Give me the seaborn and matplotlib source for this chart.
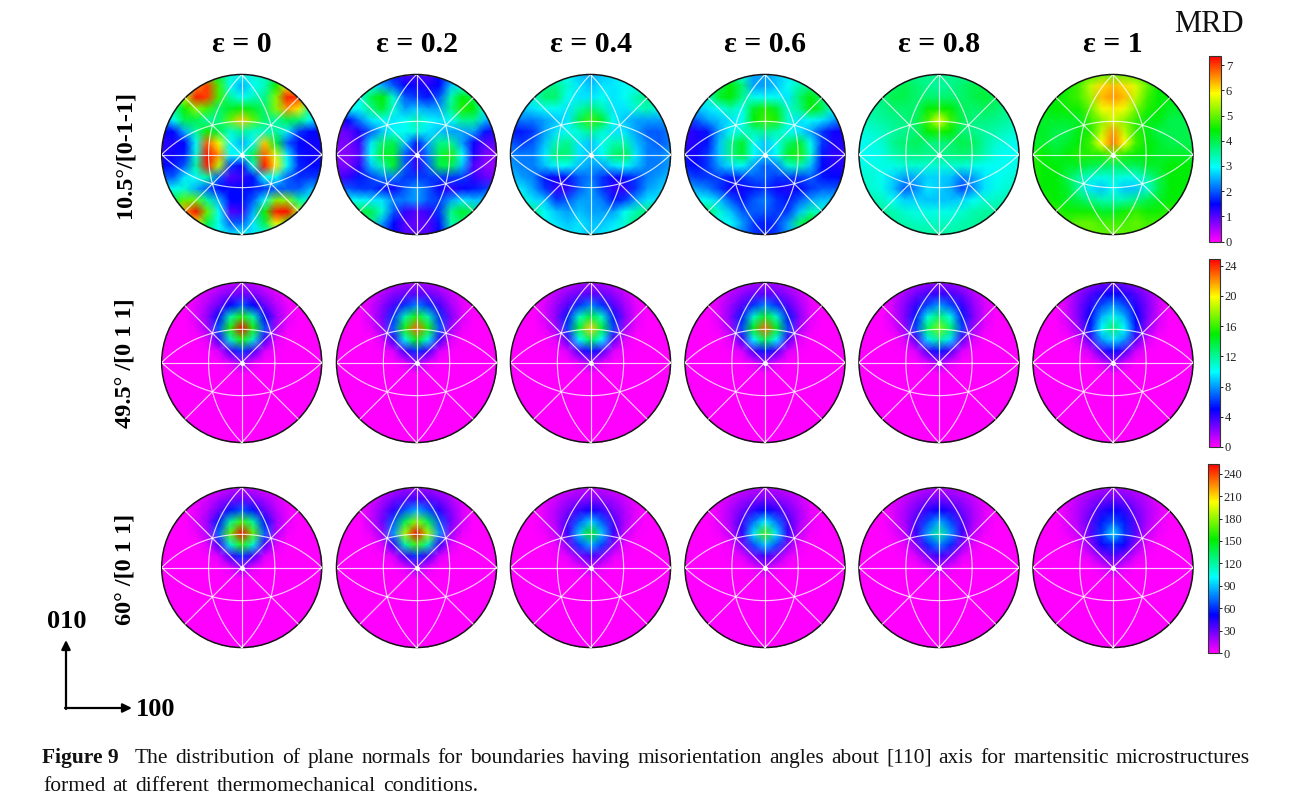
import numpy as np
import matplotlib
matplotlib.use("Agg")
import matplotlib.pyplot as plt
from matplotlib.colors import LinearSegmentedColormap
from matplotlib.patches import Circle
import seaborn as sns

sns.set_theme(style="white")
plt.rcParams["font.family"] = ["Liberation Serif", "DejaVu Serif"]

strains = ["ε = 0", "ε = 0.2", "ε = 0.4", "ε = 0.6", "ε = 0.8", "ε = 1"]
row_labels = ["10.5°/[0-1-1]", "49.5° /[0 1 1]", "60° /[0 1 1]"]
row_vmax = [7.37, 24.9, 253]
row_ticks = [list(range(0, 8)), list(range(0, 25, 4)), list(range(0, 241, 30))]
colors = ["#ff00ff", "#0000ff", "#00ffff", "#00ee00", "#ffff00", "#ff0000"]

# row 1: full 15x15 grids, MRD
low_e00 = [
    [3, 3, 3, 5, 5, 4, 3.2, 3, 3.2, 3.3, 4, 4, 4, 4, 4],
    [3, 3, 3, 6.5, 7, 4.8, 3, 2.5, 3, 3.3, 4.5, 6, 6, 5, 5],
    [3, 3, 5.5, 7.2, 7, 4.8, 3.5, 3, 3.3, 3.6, 5.2, 7.2, 7, 5, 4],
    [3, 3.5, 4.5, 5.2, 4.8, 3.8, 4.2, 4.5, 4.2, 3.8, 5.2, 6.5, 6, 3.5, 3],
    [2, 3, 4, 4, 3.5, 3.7, 5, 6.2, 5, 3.8, 3.5, 4, 3.8, 3, 2.5],
    [1.5, 1.5, 2.5, 3.5, 4.5, 4, 3.2, 3.6, 3.2, 3.3, 3.5, 2.8, 1.8, 1.5, 1.5],
    [1.2, 1.3, 1.5, 3, 6.8, 5.8, 3, 2.5, 3, 6.2, 4.2, 2, 1.5, 1.4, 1.4],
    [1.3, 1.4, 1.6, 3.2, 7.3, 6.5, 3, 3, 4, 6.8, 5.6, 2.8, 1.6, 1.4, 1.4],
    [1.5, 1.6, 2, 3.5, 7.2, 5.5, 1.8, 1.4, 3.2, 7.2, 6, 3, 1.7, 1.5, 1.5],
    [2, 2, 2.8, 3, 3.5, 2, 1, 1.2, 1.6, 3, 3, 2, 1.7, 1.8, 1.8],
    [3, 3, 3.2, 2.5, 2, 1.5, 1.5, 1.5, 1.6, 1.8, 2, 2, 2, 2.5, 2.5],
    [4, 4, 5, 5, 3.5, 2.5, 1.5, 1.5, 2, 3, 5.2, 5.2, 3.5, 3, 3],
    [5, 5, 6.5, 7.3, 5, 3, 1, 1.2, 2.5, 4.5, 7.2, 7.3, 5.5, 4, 4],
    [5, 5, 5, 6, 4, 3, 2, 2, 2.8, 4, 6, 5, 4, 4, 4],
    [4, 4, 4, 4, 3.5, 3, 2.8, 3, 2.8, 3, 3.5, 3.5, 3.5, 3.5, 3.5],
]
low_e02 = [
    [2, 2, 2, 2, 2, 1.5, 1, 1.2, 1, 1.5, 2, 2, 2, 2, 2],
    [3, 3, 3, 3, 2.5, 2, 1.5, 1.4, 1.3, 1.5, 2.6, 3, 3, 3, 3],
    [3, 3, 3, 4, 4.4, 3.2, 2, 1.8, 1.6, 2, 3.4, 4.4, 4, 3, 3],
    [3, 3, 3, 3.6, 4.2, 3.2, 2.4, 2.6, 2.4, 2.4, 3.6, 4.6, 4.4, 3, 3],
    [1.2, 1.5, 2.2, 2.8, 3, 2.8, 3, 3.4, 3, 2.8, 3, 3.6, 3.6, 2.6, 2],
    [.8, .9, 1.3, 2, 2.6, 3, 3, 3.2, 2.8, 2.6, 2.4, 2.4, 2.4, 1.6, 1.2],
    [.8, .8, 1.1, 2.8, 3.8, 4, 2.6, 1.6, 2.4, 3.6, 3.6, 2.4, 1.4, 1, .9],
    [.7, .7, 1, 3, 4.2, 4.2, 2, 1.2, 2.2, 4, 4.6, 3, 1.3, .8, .7],
    [.8, .8, 1.2, 2.6, 3.4, 4.2, 2, 1.2, 2, 4, 4, 2.6, 1, .7, .6],
    [1, 1.2, 1.6, 1.8, 2.2, 2.2, 1.8, 1.8, 1.8, 1.8, 1.8, 1.8, 1.2, .9, .8],
    [2, 2, 1.8, 1.8, 1.6, 1.4, 2, 2.4, 2, 1.4, 1.2, 1.4, 1.6, 1.8, 2],
    [3, 3, 3, 2.8, 2.8, 2.2, 2.2, 2.4, 2, 1.8, 2.4, 2.8, 2.6, 2.6, 3],
    [3.5, 3.5, 4, 4, 3.2, 2, 1.2, 1, 1.2, 1.8, 3.6, 4.2, 3.8, 3, 3],
    [4, 4, 4, 3.6, 2.4, 1.5, 1, .9, 1, 1.6, 3.4, 3.8, 3.4, 3, 3],
    [3, 3, 3, 3, 2, 1.5, 1, 1, 1, 1.5, 2.6, 3, 3, 3, 3],
]
low_e04 = [
    [3, 3, 3, 3, 3, 3, 2.6, 2.4, 2.6, 2.8, 3, 3, 3, 3, 3],
    [3, 3, 3, 3.6, 3.6, 3.2, 2.8, 2.6, 2.8, 2.8, 3, 3, 3, 3, 3],
    [3, 3, 3.2, 3.8, 3.8, 3, 2.8, 2.8, 3, 2.8, 3, 3.4, 3.6, 3, 3],
    [2.6, 2.6, 2.8, 3, 3, 2.8, 3.4, 3.8, 3.4, 2.8, 2.8, 3.2, 3.4, 3, 2.8],
    [2, 2.2, 2.2, 2.4, 2.6, 2.8, 4, 4.8, 4.2, 3, 2.6, 2.4, 2.4, 2.4, 2.4],
    [1.6, 1.6, 1.8, 2.4, 2.8, 3, 3.2, 3.6, 3.2, 2.8, 2.8, 2.4, 2, 2, 2.2],
    [2, 1.8, 2, 2.6, 3.4, 3.6, 2.8, 2.6, 3, 3.4, 3.4, 2.6, 2.2, 2, 2.2],
    [2.2, 2.2, 2.2, 2.8, 3.8, 3.8, 2.8, 2.6, 3, 3.8, 4, 2.8, 2.2, 2.2, 2.4],
    [2.4, 2.2, 2.2, 2.6, 3, 3, 2.6, 2.4, 2.4, 2.8, 3, 2.6, 2.2, 2.2, 2.4],
    [2.6, 2.4, 2.2, 1.6, 1.4, 1.6, 2, 2.2, 1.8, 1.4, 1.6, 1.8, 2.2, 2.4, 2.6],
    [3, 2.8, 2.4, 1.8, 1.2, 1.2, 2, 2.4, 1.8, 1.2, 1.2, 1.8, 2.4, 2.6, 3],
    [3.2, 3.2, 2.8, 2.6, 1.8, 2, 2.4, 2.4, 2.2, 1.6, 1.8, 2.4, 2.8, 2.8, 3],
    [3.6, 3.6, 3.6, 3, 2.6, 2.4, 2.6, 2.4, 2.4, 2.4, 3, 3.4, 3.8, 3.6, 3.6],
    [3.4, 3.4, 3.2, 3, 2.8, 2.6, 2.8, 2.6, 2.6, 2.8, 3.2, 3.8, 3.6, 3.4, 3.4],
    [3, 3, 3, 3, 3, 2.8, 2.8, 2.6, 2.8, 3, 3, 3, 3, 3, 3],
]
low_e06 = [
    [3, 3, 3, 3, 3.6, 3, 2.4, 2.4, 2.6, 2.8, 3, 3, 3, 3, 3],
    [3.4, 3.4, 3.4, 4, 4.4, 3.8, 2.4, 2.4, 2.6, 3, 3.4, 3.6, 3.4, 3.4, 3.4],
    [3.2, 3.2, 3.2, 4.2, 4.4, 3.6, 3, 3, 3, 2.8, 3.8, 4.4, 3.8, 3.2, 3.2],
    [2.4, 2.6, 2.8, 3, 3.4, 3, 4.2, 4.6, 4.2, 3.2, 3.6, 4.4, 4, 3, 2.6],
    [1.8, 2, 2.4, 2.6, 2.8, 3, 4.4, 4.8, 4.6, 3.2, 2.8, 3, 2.8, 2.4, 2],
    [1.2, 1.3, 1.6, 2.4, 3, 3.2, 3.4, 3.6, 3.4, 3, 2.8, 2.4, 1.8, 1.4, 1.4],
    [1.2, 1.3, 1.6, 2.6, 3.6, 4.2, 3, 2.6, 3, 3.8, 4.2, 3, 1.8, 1.3, 1.3],
    [1.4, 1.4, 1.8, 2.6, 3.6, 4.2, 3, 2.6, 3, 4.2, 4.6, 3.2, 1.6, 1.2, 1.2],
    [1.6, 1.5, 1.8, 2.4, 2.8, 3, 2.4, 2, 2.2, 3.2, 3.4, 2.6, 1.5, 1.3, 1.3],
    [2, 1.8, 1.8, 1.8, 1.6, 1.8, 2, 2, 1.8, 1.8, 1.8, 2, 1.6, 1.5, 1.5],
    [2.6, 2.4, 2.2, 1.8, 1.4, 1.4, 1.6, 1.8, 1.4, 1.3, 1.5, 1.8, 2, 2, 2],
    [3, 3, 3, 2.6, 2, 1.6, 2, 2.2, 1.8, 1.6, 2, 2.4, 2.6, 2.6, 2.6],
    [3.6, 3.6, 3.8, 3.2, 2.6, 2, 2, 2, 1.8, 1.8, 2.6, 3.4, 3.2, 3, 3],
    [3.4, 3.4, 3.2, 3, 3, 2.4, 1.8, 1.6, 1.8, 2.4, 3.8, 4.4, 3.8, 3.4, 3.4],
    [3, 3, 3, 3, 2.6, 2.2, 1.8, 1.6, 1.8, 2.4, 3.2, 3.6, 3.6, 3.2, 3],
]
low_e08 = [
    [3.6, 3.6, 3.6, 3.6, 3.6, 3.6, 3.6, 3.6, 3.6, 3.6, 3.6, 3.6, 3.6, 3.6, 3.6],
    [3.6, 3.6, 3.6, 3.8, 4, 3.8, 3.6, 3.5, 3.6, 3.8, 4, 4, 3.8, 3.6, 3.6],
    [3.6, 3.6, 3.7, 4, 4, 3.8, 3.8, 3.8, 3.8, 3.8, 4, 4.1, 3.9, 3.7, 3.6],
    [3.5, 3.5, 3.6, 3.8, 3.8, 3.8, 4.4, 4.5, 4.4, 3.9, 3.8, 3.9, 3.8, 3.6, 3.5],
    [3.4, 3.4, 3.5, 3.6, 3.7, 3.9, 4.8, 5.8, 4.8, 4, 3.7, 3.7, 3.6, 3.5, 3.4],
    [3.1, 3.2, 3.3, 3.5, 3.6, 3.8, 4.4, 4.6, 4.4, 3.8, 3.6, 3.5, 3.4, 3.3, 3.1],
    [3, 3.1, 3.2, 3.6, 3.8, 3.9, 3.7, 3.7, 3.8, 4, 3.9, 3.5, 3.2, 3.1, 3],
    [3, 3, 3.1, 3.4, 3.6, 3.7, 3.6, 3.6, 3.7, 3.8, 3.7, 3.4, 3.1, 3, 3],
    [3.1, 3.1, 3.1, 3.1, 3.2, 3.2, 3.2, 3.2, 3.2, 3.2, 3.1, 3, 3, 3, 3.1],
    [3.2, 3.2, 3, 2.7, 2.4, 2.5, 2.7, 2.7, 2.6, 2.2, 2.4, 2.8, 3, 3.1, 3.2],
    [3.3, 3.2, 3.1, 2.6, 2, 2.3, 2.8, 2.7, 2.5, 1.9, 2.3, 2.8, 3.1, 3.2, 3.3],
    [3.4, 3.4, 3.3, 3, 2.7, 2.7, 2.6, 2.6, 2.6, 2.7, 3, 3.2, 3.3, 3.4, 3.4],
    [3.5, 3.5, 3.5, 3.4, 3.2, 3.1, 3.1, 3.1, 3.1, 3.2, 3.4, 3.5, 3.5, 3.5, 3.5],
    [3.6, 3.6, 3.6, 3.5, 3.4, 3.3, 3.3, 3.3, 3.3, 3.4, 3.5, 3.6, 3.6, 3.6, 3.6],
    [3.6, 3.6, 3.6, 3.6, 3.6, 3.5, 3.5, 3.5, 3.5, 3.5, 3.6, 3.6, 3.6, 3.6, 3.6],
]
low_e10 = [
    [4.2, 4.2, 4.2, 4.2, 4.6, 4.8, 5, 5, 5, 4.8, 4.6, 4.2, 4.2, 4.2, 4.2],
    [4.2, 4.2, 4.2, 4.5, 4.8, 5.5, 6.1, 6.3, 6.1, 5.7, 5, 4.4, 4.2, 4.2, 4.2],
    [4.4, 4.4, 4.4, 4.6, 4.8, 5.3, 6.3, 6.5, 6.3, 5.5, 4.8, 4.4, 4.4, 4.4, 4.4],
    [4.4, 4.4, 4.4, 4.5, 4.5, 5, 5.8, 6, 5.8, 5.1, 4.6, 4.4, 4.2, 4.2, 4.2],
    [4.2, 4.2, 4.2, 4.2, 4.2, 4.7, 5.2, 5.6, 5.2, 4.7, 4.3, 4.3, 4, 4, 4],
    [4.2, 4.2, 4, 4, 4.3, 4.6, 5.5, 6.5, 5.5, 4.7, 4.3, 4, 4, 4, 4],
    [4.2, 4.2, 4, 4.2, 4.4, 4.8, 5.9, 6.7, 5.9, 4.8, 4.4, 4.2, 4, 4, 4],
    [4.6, 4.4, 4.2, 4.4, 4.6, 4.6, 4.6, 5, 4.6, 4.4, 4.4, 4.2, 4.2, 4.2, 4.2],
    [4.6, 4.4, 4.4, 4.2, 4.2, 4, 3.9, 3.8, 3.9, 3.9, 4.2, 4.2, 4.4, 4.4, 4.4],
    [4.6, 4.4, 4.4, 4, 3.5, 3.2, 3.1, 3.2, 3.1, 3.1, 3.5, 4, 4.4, 4.4, 4.4],
    [4.6, 4.4, 4.4, 4.2, 3.5, 2.8, 2.6, 3, 2.6, 2.6, 3.2, 4, 4.4, 4.4, 4.4],
    [4.6, 4.6, 4.4, 4.2, 4, 3.7, 3.4, 3.4, 3.4, 3.7, 4, 4.2, 4.4, 4.4, 4.4],
    [4.7, 4.7, 4.7, 4.5, 4.5, 4.5, 4.2, 4.2, 4.5, 4.7, 4.5, 4.5, 4.7, 4.7, 4.7],
    [4.8, 4.8, 4.8, 4.8, 5, 5, 4.8, 4.8, 4.8, 5, 4.8, 4.8, 4.8, 4.8, 4.8],
    [4.8, 4.8, 4.8, 4.8, 4.8, 5, 5, 5, 5, 4.8, 4.8, 4.8, 4.8, 4.8, 4.8],
]

# rows 2 and 3: only the upper middle of the disc differs from zero (8 rows x 9 cols)
mid_e00 = [
    [0, .4, .8, 1.2, 1.5, 1.2, .8, .3, 0],
    [.4, 1, 1.8, 2.6, 3, 2.6, 1.6, .8, .2],
    [.6, 1.6, 3, 5, 6.8, 5, 3, 1.4, .4],
    [.8, 2.2, 5.2, 11.5, 15.5, 11.5, 5.2, 2.2, .6],
    [.4, 1.8, 6.8, 15.5, 30, 15.5, 6.8, 1.8, .2],
    [0, .6, 3.8, 11, 15.5, 11, 3.8, .6, 0],
    [0, .1, .8, 3.8, 6.2, 3.8, .8, .1, 0],
    [0, 0, 0, .6, 2.2, .6, 0, 0, 0],
]
mid_e02 = [
    [.2, .8, 1.4, 1.6, 1.8, 1.6, 1.2, .6, .2],
    [.6, 1.5, 2.4, 3, 3.4, 3, 2.2, 1.2, .4],
    [.9, 2.2, 3.6, 6, 7.5, 6, 3.6, 1.8, .6],
    [1, 2.6, 6, 11.5, 15.5, 11.5, 6, 2.6, .8],
    [.5, 2, 7, 15.5, 23, 15.5, 7, 2, .4],
    [0, .7, 4, 10.5, 15, 10.5, 4, .7, 0],
    [0, .1, .8, 3.8, 6, 3.8, .8, .1, 0],
    [0, 0, 0, .6, 2.2, .6, 0, 0, 0],
]
mid_e04 = [
    [.1, .7, 1.2, 1.6, 1.8, 1.6, 1.2, .6, .1],
    [.5, 1.4, 2.2, 3, 3.4, 3, 2.2, 1.2, .3],
    [.8, 2, 3.4, 6, 7.5, 6, 3.4, 1.8, .5],
    [.8, 2.4, 5.5, 11, 14, 11, 5.5, 2.4, .6],
    [.4, 1.8, 6.5, 14, 21, 14, 6.5, 1.8, .3],
    [0, .6, 3.5, 10, 13.5, 10, 3.5, .6, 0],
    [0, .1, .8, 3.6, 5.5, 3.6, .8, .1, 0],
    [0, 0, 0, .6, 2, .6, 0, 0, 0],
]
mid_e06 = [
    [.1, .7, 1.2, 1.6, 1.8, 1.6, 1.2, .6, .1],
    [.5, 1.4, 2.2, 3, 3.4, 3, 2.2, 1.2, .3],
    [.8, 2, 3.4, 6, 7.5, 6, 3.4, 1.8, .5],
    [.8, 2.4, 5.5, 11, 14.5, 11, 5.5, 2.4, .6],
    [.4, 1.8, 6.5, 14.5, 23, 14.5, 6.5, 1.8, .3],
    [0, .6, 3.6, 10, 14, 10, 3.6, .6, 0],
    [0, .1, .8, 3.6, 5.5, 3.6, .8, .1, 0],
    [0, 0, 0, .6, 2, .6, 0, 0, 0],
]
mid_e08 = [
    [.3, 1, 1.6, 2, 2.2, 2, 1.6, .9, .3],
    [.8, 1.8, 2.8, 3.6, 4, 3.6, 2.8, 1.6, .6],
    [1, 2.4, 4, 6.5, 8, 6.5, 4, 2.2, .8],
    [1, 2.6, 5.5, 10.5, 13, 10.5, 5.5, 2.6, .8],
    [.5, 2, 6.5, 13, 17.5, 13, 6.5, 2, .4],
    [0, .7, 3.5, 9.5, 12, 9.5, 3.5, .7, 0],
    [0, .1, .8, 3.6, 5.5, 3.6, .8, .1, 0],
    [0, 0, 0, .7, 2.2, .7, 0, 0, 0],
]
mid_e10 = [
    [.4, 1.2, 2, 2.6, 3, 2.6, 2, 1.2, .4],
    [1, 2.2, 3.4, 4.4, 5, 4.4, 3.4, 2.2, .9],
    [1, 2.6, 4.2, 6.5, 7.8, 6.5, 4.2, 2.6, 1],
    [1, 2.6, 5, 8.5, 10.5, 8.5, 5, 2.6, .9],
    [.5, 2, 5.5, 10, 13, 10, 5.5, 2, .5],
    [0, .8, 3.4, 8, 9.5, 8, 3.4, .8, 0],
    [0, .1, 1, 3.6, 5.2, 3.6, 1, .1, 0],
    [0, 0, 0, .8, 2.4, .8, 0, 0, 0],
]

high_e00 = [
    [0, 3, 7, 12, 15, 12, 7, 3, 0],
    [3, 9, 17, 25, 30, 25, 17, 9, 2],
    [5, 14, 30, 55, 68, 55, 30, 14, 4],
    [7, 20, 55, 120, 165, 120, 55, 20, 5],
    [3, 16, 72, 170, 300, 170, 72, 16, 2],
    [0, 6, 38, 110, 160, 110, 38, 6, 0],
    [0, 1, 8, 38, 62, 38, 8, 1, 0],
    [0, 0, 0, 6, 22, 6, 0, 0, 0],
]
high_e02 = [
    [2, 8, 14, 18, 20, 18, 14, 8, 2],
    [7, 16, 26, 34, 38, 34, 26, 16, 6],
    [10, 24, 42, 68, 85, 68, 42, 24, 8],
    [11, 28, 68, 135, 180, 135, 68, 28, 9],
    [5, 20, 82, 185, 310, 185, 82, 20, 4],
    [0, 7, 42, 118, 165, 118, 42, 7, 0],
    [0, 1, 8, 38, 62, 38, 8, 1, 0],
    [0, 0, 0, 6, 22, 6, 0, 0, 0],
]
high_e04 = [
    [1, 5, 9, 12, 14, 12, 9, 5, 1],
    [4, 10, 17, 22, 25, 22, 17, 10, 3],
    [6, 15, 26, 40, 48, 40, 26, 15, 5],
    [6, 16, 36, 70, 92, 70, 36, 16, 5],
    [3, 12, 40, 90, 150, 90, 40, 12, 2],
    [0, 4, 24, 65, 85, 65, 24, 4, 0],
    [0, 1, 6, 24, 38, 24, 6, 1, 0],
    [0, 0, 0, 4, 14, 4, 0, 0, 0],
]
high_e06 = [
    [1, 5, 10, 13, 15, 13, 10, 5, 1],
    [4, 11, 18, 24, 27, 24, 18, 11, 3],
    [6, 16, 28, 42, 52, 42, 28, 16, 5],
    [6, 17, 38, 74, 98, 74, 38, 17, 5],
    [3, 13, 42, 96, 165, 96, 42, 13, 2],
    [0, 4, 25, 68, 90, 68, 25, 4, 0],
    [0, 1, 6, 25, 40, 25, 6, 1, 0],
    [0, 0, 0, 4, 14, 4, 0, 0, 0],
]
high_e08 = [
    [1, 6, 11, 14, 16, 14, 11, 6, 1],
    [5, 12, 19, 25, 28, 25, 19, 12, 4],
    [7, 16, 28, 42, 50, 42, 28, 16, 6],
    [7, 17, 36, 66, 85, 66, 36, 17, 6],
    [4, 13, 40, 82, 122, 82, 40, 13, 3],
    [0, 5, 24, 60, 78, 60, 24, 5, 0],
    [0, 1, 7, 26, 40, 26, 7, 1, 0],
    [0, 0, 0, 5, 15, 5, 0, 0, 0],
]
high_e10 = [
    [2, 7, 12, 16, 18, 16, 12, 7, 2],
    [6, 13, 20, 27, 31, 27, 20, 13, 5],
    [7, 16, 27, 42, 50, 42, 27, 16, 7],
    [7, 16, 32, 56, 68, 56, 32, 16, 6],
    [4, 12, 33, 62, 95, 62, 33, 12, 3],
    [0, 5, 22, 48, 60, 48, 22, 5, 0],
    [0, 1, 7, 24, 36, 24, 7, 1, 0],
    [0, 0, 0, 5, 16, 5, 0, 0, 0],
]

low_grids = [low_e00, low_e02, low_e04, low_e06, low_e08, low_e10]
mid_grids = [mid_e00, mid_e02, mid_e04, mid_e06, mid_e08, mid_e10]
high_grids = [high_e00, high_e02, high_e04, high_e06, high_e08, high_e10]

W, H = 1292, 810
cx = [241.7, 416.5, 590.5, 765, 939, 1113]
cy = [154.5, 362.5, 567.5]
R = 80
bars = [(1209, 56, 12, 185.5), (1208.5, 259, 11.5, 188), (1208, 464, 11, 189)]

cmap = LinearSegmentedColormap.from_list("mrd", colors)


def px_axes(x, y, w, h):
    return fig.add_axes([x / W, 1 - (y + h) / H, w / W, h / H])


def full_grid(window):
    grid = np.zeros((15, 15))
    grid[:8, 3:12] = window
    return grid


def draw_net(ax, clip):
    # stereographic net in unit disc coordinates, drawn over a 0..14 heatmap
    t = np.linspace(0, 2 * np.pi, 300)
    for a, b in [(0, 1), (0, -1), (1, 0), (-1, 0)]:
        x = a + np.sqrt(2) * np.cos(t)
        y = b + np.sqrt(2) * np.sin(t)
        line, = ax.plot(7 + 7 * x, 7 - 7 * y, color="white", lw=0.85, alpha=0.8)
        line.set_clip_path(clip)
    for x, y in [(1, 0), (0, 1), (.7071, .7071), (.7071, -.7071)]:
        ax.plot([7 - 7 * x, 7 + 7 * x], [7 + 7 * y, 7 - 7 * y], color="white", lw=0.85, alpha=0.8)
    ax.plot([7], [7], "o", color="white", ms=2.5)


fig = plt.figure(figsize=(W / 100, H / 100), dpi=100, facecolor="white")

all_rows = [[np.array(g) for g in low_grids],
            [full_grid(g) for g in mid_grids],
            [full_grid(g) for g in high_grids]]

for i, grids in enumerate(all_rows):
    for j, grid in enumerate(grids):
        ax = px_axes(cx[j] - R, cy[i] - R, 2 * R, 2 * R)
        if j == 5:
            cax = px_axes(*bars[i])
            kw = dict(cbar=True, cbar_ax=cax, cbar_kws={"ticks": row_ticks[i]})
        else:
            kw = dict(cbar=False)
        sns.heatmap(grid, ax=ax, cmap=cmap, vmin=0, vmax=row_vmax[i], shading="gouraud",
                    xticklabels=False, yticklabels=False, **kw)
        ax.set_xlim(0, 14)
        ax.set_ylim(14, 0)
        ax.axis("off")
        clip = Circle((7, 7), 7, transform=ax.transData)
        ax.collections[0].set_clip_path(clip)
        draw_net(ax, clip)
        ax.add_patch(Circle((7, 7), 7, fill=False, ec="#151515", lw=1.1, clip_on=False))
        if j == 5:
            cb = ax.collections[0].colorbar
            cb.outline.set_linewidth(0.8)
            cb.outline.set_edgecolor("#333333")
            cax.tick_params(length=2, width=0.7, pad=1.5, labelsize=9, right=True, colors="#222222")

# page level text and arrows, in pixel coordinates
page = fig.add_axes([0, 0, 1, 1], zorder=5)
page.set_xlim(0, W)
page.set_ylim(H, 0)
page.axis("off")
page.patch.set_alpha(0)

for x, s in zip(cx, strains):
    page.text(x, 44, s, ha="center", va="center", fontsize=21.5, fontweight="bold", color="black")
page.text(1209, 25, "MRD", ha="center", va="center", fontsize=22, color="#111111")
for y, s in zip([155, 363.5, 569], row_labels):
    page.text(125, y, s, rotation=90, ha="center", va="center", fontsize=17.5, fontweight="bold", color="black")

page.text(67, 621, "010", ha="center", va="center", fontsize=19, fontweight="bold", color="black")
page.text(156, 710, "100", ha="center", va="center", fontsize=19, fontweight="bold", color="black")
arrow = dict(arrowstyle="-|>,head_length=0.45,head_width=0.22", color="black", lw=1.6, shrinkA=0, shrinkB=0)
page.annotate("", xy=(66, 640), xytext=(66, 709), arrowprops=arrow)
page.annotate("", xy=(132, 708), xytext=(65, 708), arrowprops=arrow)


def justified(words, x0, x1, y):
    # place words one by one so the line runs exactly from x0 to x1
    renderer = fig.canvas.get_renderer()
    items = [page.text(x0, y, w, ha="left", va="baseline", fontsize=15.5, color="#111111") for w in words]
    widths = [t.get_window_extent(renderer).width for t in items]
    gap = (x1 - x0 - sum(widths)) / (len(words) - 1)
    x = x0
    for t, w in zip(items, widths):
        t.set_x(x)
        x += w + gap


page.text(42, 763, "Figure 9", ha="left", va="baseline", fontsize=15.5, fontweight="bold", color="#111111")
justified("The distribution of plane normals for boundaries having misorientation angles about [110] axis for martensitic microstructures".split(),
          135, 1250, 763)
justified("formed at different thermomechanical conditions.".split(), 43, 478, 791)

fig.savefig("out.png", dpi=100)
